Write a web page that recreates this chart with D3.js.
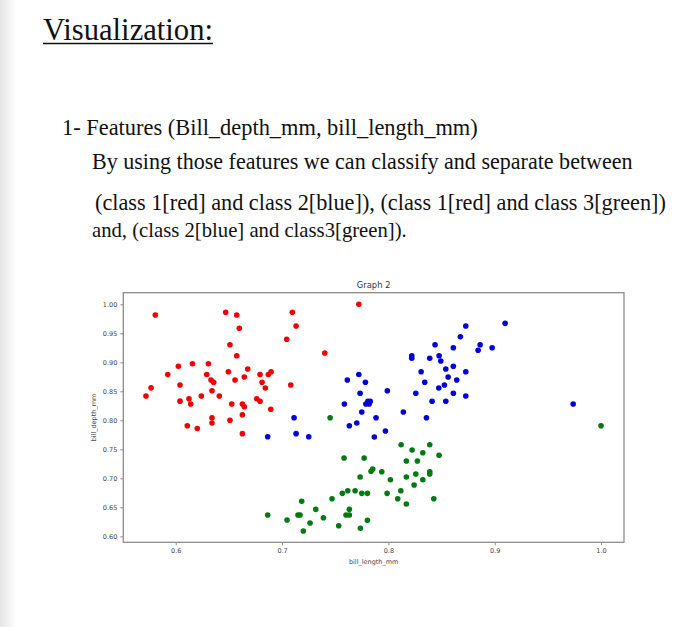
<!DOCTYPE html>
<html>
<head>
<meta charset="utf-8">
<script src="https://cdn.jsdelivr.net/npm/d3@7"></script>
<style>
  html, body { margin: 0; padding: 0; background: #fff; }
  svg { display: block; }
</style>
</head>
<body>
<script>
// class 1 (red): [bill_length, bill_depth], normalised
var redPts = [
    [0.5808, 0.9816], [0.572, 0.842], [0.5768, 0.856], [0.5925, 0.879], [0.6025, 0.893],
    [0.604, 0.861], [0.604, 0.833], [0.6157, 0.8976], [0.6125, 0.837], [0.6141, 0.828],
    [0.6241, 0.842], [0.6307, 0.8976], [0.6292, 0.879], [0.6332, 0.8695], [0.6357, 0.8655],
    [0.6341, 0.851], [0.641, 0.842], [0.6341, 0.8045], [0.6341, 0.7953], [0.6109, 0.7907],
    [0.6203, 0.786], [0.647, 0.9862], [0.6574, 0.9816], [0.6598, 0.9586], [0.651, 0.9303],
    [0.6574, 0.9114], [0.6495, 0.8838], [0.6558, 0.8695], [0.6645, 0.8747], [0.6677, 0.8884],
    [0.6527, 0.828], [0.6627, 0.828], [0.6645, 0.8234], [0.6627, 0.8097], [0.651, 0.80],
    [0.6793, 0.879], [0.6812, 0.8655], [0.6843, 0.8557], [0.6871, 0.879], [0.6897, 0.8838],
    [0.6762, 0.8372], [0.6793, 0.8328], [0.6894, 0.819], [0.6627, 0.777], [0.7097, 0.9862],
    [0.7132, 0.9626], [0.7044, 0.9397], [0.7082, 0.861], [0.7402, 0.916], [0.7722, 1.0]
];

// class 2 (blue)
var bluePts = [
    [0.7113, 0.8045], [0.7614, 0.8695], [0.7722, 0.879], [0.7784, 0.8655], [0.7586, 0.828],
    [0.7734, 0.8466], [0.7788, 0.828], [0.7807, 0.8326], [0.7829, 0.8326], [0.7819, 0.828],
    [0.775, 0.8143], [0.7703, 0.7953], [0.7633, 0.7907], [0.7884, 0.8045], [0.799, 0.851],
    [0.7972, 0.7816], [0.7868, 0.7713], [0.8141, 0.8143], [0.8258, 0.8466], [0.8308, 0.8838],
    [0.8342, 0.8655], [0.822, 0.9114], [0.822, 0.9069], [0.8358, 0.8045], [0.8411, 0.8328],
    [0.8439, 0.9303], [0.8389, 0.9069], [0.8477, 0.9114], [0.8493, 0.9022], [0.854, 0.8884],
    [0.8611, 0.9252], [0.8611, 0.8931], [0.8562, 0.8747], [0.8527, 0.861], [0.8474, 0.8557],
    [0.854, 0.8328], [0.8611, 0.8466], [0.8643, 0.8695], [0.8728, 0.8838], [0.8728, 0.842],
    [0.8677, 0.9441], [0.8728, 0.9626], [0.8844, 0.9207], [0.8863, 0.9303], [0.8976, 0.9252],
    [0.9098, 0.9672], [0.9738, 0.828], [0.6865, 0.7717], [0.7132, 0.777], [0.7251, 0.7717]
];

// class 3 (green)
var greenPts = [
    [0.7452, 0.8045], [1.0, 0.7907], [0.6865, 0.6367], [0.7047, 0.6281], [0.715, 0.6367],
    [0.7169, 0.6367], [0.7185, 0.6603], [0.72, 0.6091], [0.7263, 0.623], [0.7317, 0.6465],
    [0.7389, 0.632], [0.747, 0.6648], [0.7533, 0.6183], [0.7567, 0.6741], [0.7583, 0.735],
    [0.7602, 0.6367], [0.7618, 0.6786], [0.7633, 0.6465], [0.7633, 0.6367], [0.7687, 0.6786],
    [0.7734, 0.7022], [0.7737, 0.6138], [0.775, 0.6741], [0.7772, 0.735], [0.7803, 0.6741],
    [0.7803, 0.6276], [0.7837, 0.7121], [0.7853, 0.716], [0.7938, 0.7114], [0.7988, 0.6741],
    [0.8019, 0.6976], [0.8088, 0.6648], [0.8117, 0.6786], [0.812, 0.758], [0.8169, 0.7298],
    [0.8169, 0.7022], [0.8169, 0.6557], [0.8223, 0.7488], [0.8242, 0.6884], [0.8258, 0.7074],
    [0.8273, 0.7298], [0.8324, 0.7442], [0.8324, 0.6976], [0.8389, 0.758], [0.8389, 0.7114],
    [0.8389, 0.7074], [0.8427, 0.6648], [0.8477, 0.7397]
];

var xTicks = [0.6, 0.7, 0.8, 0.9, 1.0];
var yTicks = [0.60, 0.65, 0.70, 0.75, 0.80, 0.85, 0.90, 0.95, 1.00];

var headingText = "Visualization:";
var bodyLines = [
    "1- Features (Bill_depth_mm, bill_length_mm)",
    "By using those features we can classify and separate between",
    "(class 1[red] and class 2[blue]), (class 1[red] and class 3[green])",
    "and, (class 2[blue] and class3[green])."
];

( function() {
    var W = 686, H = 627;
    var svg = d3.select( "body" ).append( "svg" )
        .attr( "width", W )
        .attr( "height", H );

    // faint page edge on the left
    var grad = svg.append( "defs" ).append( "linearGradient" )
        .attr( "id", "edge" );
    grad.append( "stop" ).attr( "offset", "0%" ).attr( "stop-color", "#e4e4e4" );
    grad.append( "stop" ).attr( "offset", "100%" ).attr( "stop-color", "#ffffff" );
    svg.append( "rect" ).attr( "width", W ).attr( "height", H ).attr( "fill", "#fff" );
    svg.append( "rect" ).attr( "width", 16 ).attr( "height", H ).attr( "fill", "url(#edge)" );

    // text block, each line squeezed to the width it has in the picture
    function fitText( sel, width ) {
        var w = sel.node().getComputedTextLength();
        var fs = parseFloat( sel.attr( "font-size" ) );
        sel.attr( "font-size", fs * width / w );
    }

    var head = svg.append( "text" )
        .attr( "x", 43 ).attr( "y", 40 )
        .attr( "font-family", "Liberation Serif, Times New Roman, serif" )
        .attr( "font-size", 30 )
        .attr( "fill", "#111" )
        .text( headingText );
    fitText( head, 170 );
    var hb = head.node().getBBox();
    svg.append( "line" )
        .attr( "x1", hb.x ).attr( "x2", hb.x + hb.width )
        .attr( "y1", 43.5 ).attr( "y2", 43.5 )
        .attr( "stroke", "#111" ).attr( "stroke-width", 1.6 );

    var lineX = [ 62, 92, 95, 92 ];
    var lineY = [ 135, 169, 210, 237 ];
    var lineW = [ 416, 541, 571, 315 ];
    bodyLines.forEach( function( t, i ) {
        var s = svg.append( "text" )
            .attr( "x", lineX[ i ] ).attr( "y", lineY[ i ] )
            .attr( "font-family", "Liberation Serif, Times New Roman, serif" )
            .attr( "font-size", 21 )
            .attr( "fill", "#111" )
            .text( t );
        fitText( s, lineW[ i ] );
    } );

    // scatter
    var plotL = 123.3, plotR = 624, plotT = 292.7, plotB = 542.3;
    var x = d3.scaleLinear().domain( [ 0.5507, 1.0216 ] ).range( [ plotL, plotR ] );
    var y = d3.scaleLinear().domain( [ 0.5897, 1.02 ] ).range( [ plotB, plotT ] );

    var sans = "DejaVu Sans, sans-serif";
    var axisCol = "#8c8c8c";

    var xAxis = svg.append( "g" )
        .attr( "transform", "translate(0," + plotB + ")" )
        .call( d3.axisBottom( x ).tickValues( xTicks ).tickFormat( d3.format( ".1f" ) ).tickSizeOuter( 0 ).tickSize( 3 ).tickPadding( 3 ) );
    var yAxis = svg.append( "g" )
        .attr( "transform", "translate(" + plotL + ",0)" )
        .call( d3.axisLeft( y ).tickValues( yTicks ).tickFormat( d3.format( ".2f" ) ).tickSizeOuter( 0 ).tickSize( 3 ).tickPadding( 3 ) );

    [ xAxis, yAxis ].forEach( function( a ) {
        a.select( ".domain" ).remove();
        a.selectAll( "line" ).attr( "stroke", axisCol );
        a.selectAll( "text" )
            .attr( "font-family", sans )
            .attr( "font-size", 6.5 )
            .attr( "fill", "#444" );
    } );

    svg.append( "rect" )
        .attr( "x", plotL ).attr( "y", plotT )
        .attr( "width", plotR - plotL ).attr( "height", plotB - plotT )
        .attr( "fill", "none" )
        .attr( "stroke", axisCol )
        .attr( "stroke-width", 1.3 );

    var series = [
        { pts: redPts, col: "#f00000" },
        { pts: bluePts, col: "#0000d8" },
        { pts: greenPts, col: "#007a10" }
    ];
    series.forEach( function( s ) {
        svg.append( "g" ).selectAll( "circle" )
            .data( s.pts )
            .join( "circle" )
            .attr( "cx", function( d ) { return x( d[ 0 ] ); } )
            .attr( "cy", function( d ) { return y( d[ 1 ] ); } )
            .attr( "r", 2.8 )
            .attr( "fill", s.col );
    } );

    svg.append( "text" )
        .attr( "x", ( plotL + plotR ) / 2 ).attr( "y", 288 )
        .attr( "text-anchor", "middle" )
        .attr( "font-family", sans ).attr( "font-size", 8.4 )
        .attr( "fill", "#333" )
        .text( "Graph 2" );

    svg.append( "text" )
        .attr( "x", ( plotL + plotR ) / 2 ).attr( "y", 564 )
        .attr( "text-anchor", "middle" )
        .attr( "font-family", sans ).attr( "font-size", 6.5 )
        .attr( "fill", "#444" )
        .text( "bill_length_mm" );

    svg.append( "text" )
        .attr( "transform", "translate(96," + ( ( plotT + plotB ) / 2 ) + ") rotate(-90)" )
        .attr( "text-anchor", "middle" )
        .attr( "font-family", sans ).attr( "font-size", 6.5 )
        .attr( "fill", "#444" )
        .text( "bill_depth_mm" );
} )();
</script>
</body>
</html>
